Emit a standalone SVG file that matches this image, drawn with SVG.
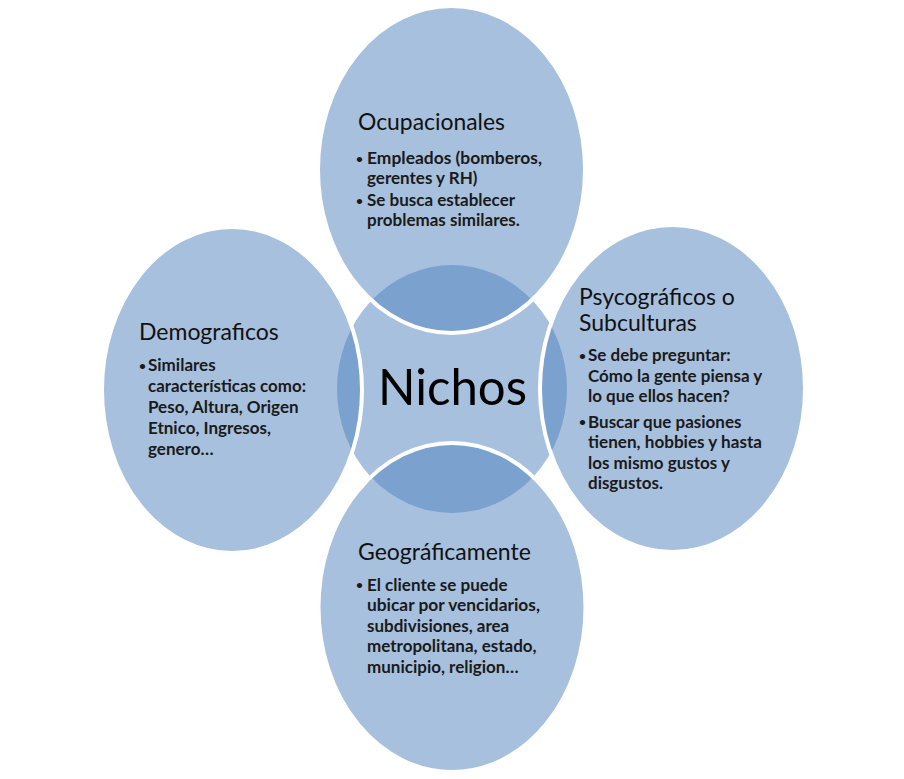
<svg xmlns="http://www.w3.org/2000/svg" width="904" height="779" viewBox="0 0 904 779">
<style>
.shape{fill:#4F81BD;fill-opacity:0.5}
.outer{stroke:#FFFFFF;stroke-width:4}
.title{font-family:Lato,"Liberation Sans",sans-serif;font-size:23px;fill:#111}
.body{font-family:Lato,"Liberation Sans",sans-serif;font-size:17px;font-weight:bold;fill:#1a1a1a}
.bul{font-size:12px}
.hub{font-family:Lato,"Liberation Sans",sans-serif;font-size:50px;fill:#000}
</style>
<rect width="904" height="779" fill="#FFFFFF"/>
<g id="connectors"/>
<g id="nichos">
<ellipse class="shape" cx="452" cy="389" rx="115" ry="124"/>
</g>
<g id="ocupacionales">
<ellipse class="shape outer" cx="451.5" cy="169.5" rx="133.5" ry="163.5"/>
<text class="title" x="358" y="129.5" textLength="147" lengthAdjust="spacingAndGlyphs">Ocupacionales</text>
<text class="body"><tspan class="bul" x="356" y="162.5">•</tspan><tspan x="367" y="164" textLength="175" lengthAdjust="spacingAndGlyphs">Empleados (bomberos,</tspan><tspan x="367" y="183.5">gerentes y RH)</tspan><tspan class="bul" x="356" y="204.5">•</tspan><tspan x="367" y="206">Se busca establecer</tspan><tspan x="367" y="225.5">problemas similares.</tspan></text>
</g>
<g id="psycograficos">
<ellipse class="shape outer" cx="672.5" cy="388.5" rx="132.5" ry="163.5"/>
<text class="title"><tspan x="579" y="305">Psycográficos o</tspan><tspan x="579" y="331">Subculturas</tspan></text>
<text class="body"><tspan class="bul" x="579" y="359.5">•</tspan><tspan x="588" y="361">Se debe preguntar:</tspan><tspan x="588" y="381.5">Cómo la gente piensa y</tspan><tspan x="588" y="402">lo que ellos hacen?</tspan><tspan class="bul" x="579" y="426">•</tspan><tspan x="588" y="427.5">Buscar que pasiones</tspan><tspan x="588" y="448" textLength="174" lengthAdjust="spacingAndGlyphs">tienen, hobbies y hasta</tspan><tspan x="588" y="468.5">los mismo gustos y</tspan><tspan x="588" y="489">disgustos.</tspan></text>
</g>
<g id="geograficamente">
<ellipse class="shape outer" cx="452" cy="607.5" rx="133.5" ry="164.5"/>
<text class="title" x="358" y="559.5">Geográficamente</text>
<text class="body"><tspan class="bul" x="356" y="589">•</tspan><tspan x="367" y="590.5">El cliente se puede</tspan><tspan x="367" y="611" textLength="173" lengthAdjust="spacingAndGlyphs">ubicar por vencidarios,</tspan><tspan x="367" y="631.5">subdivisiones, area</tspan><tspan x="367" y="652">metropolitana, estado,</tspan><tspan x="367" y="672.5">municipio, religion…</tspan></text>
</g>
<g id="demograficos">
<ellipse class="shape outer" cx="232" cy="390" rx="130" ry="163"/>
<text class="title" x="139" y="339.5">Demograficos</text>
<text class="body"><tspan class="bul" x="139" y="369.5">•</tspan><tspan x="148" y="371">Similares</tspan><tspan x="148" y="392" textLength="158" lengthAdjust="spacingAndGlyphs">características como:</tspan><tspan x="148" y="413">Peso, Altura, Origen</tspan><tspan x="148" y="434">Etnico, Ingresos,</tspan><tspan x="148" y="455">genero…</tspan></text>
</g>
<g id="hub-label">
<text class="hub" x="378" y="405" textLength="149" lengthAdjust="spacingAndGlyphs">Nichos</text>
</g>
</svg>
